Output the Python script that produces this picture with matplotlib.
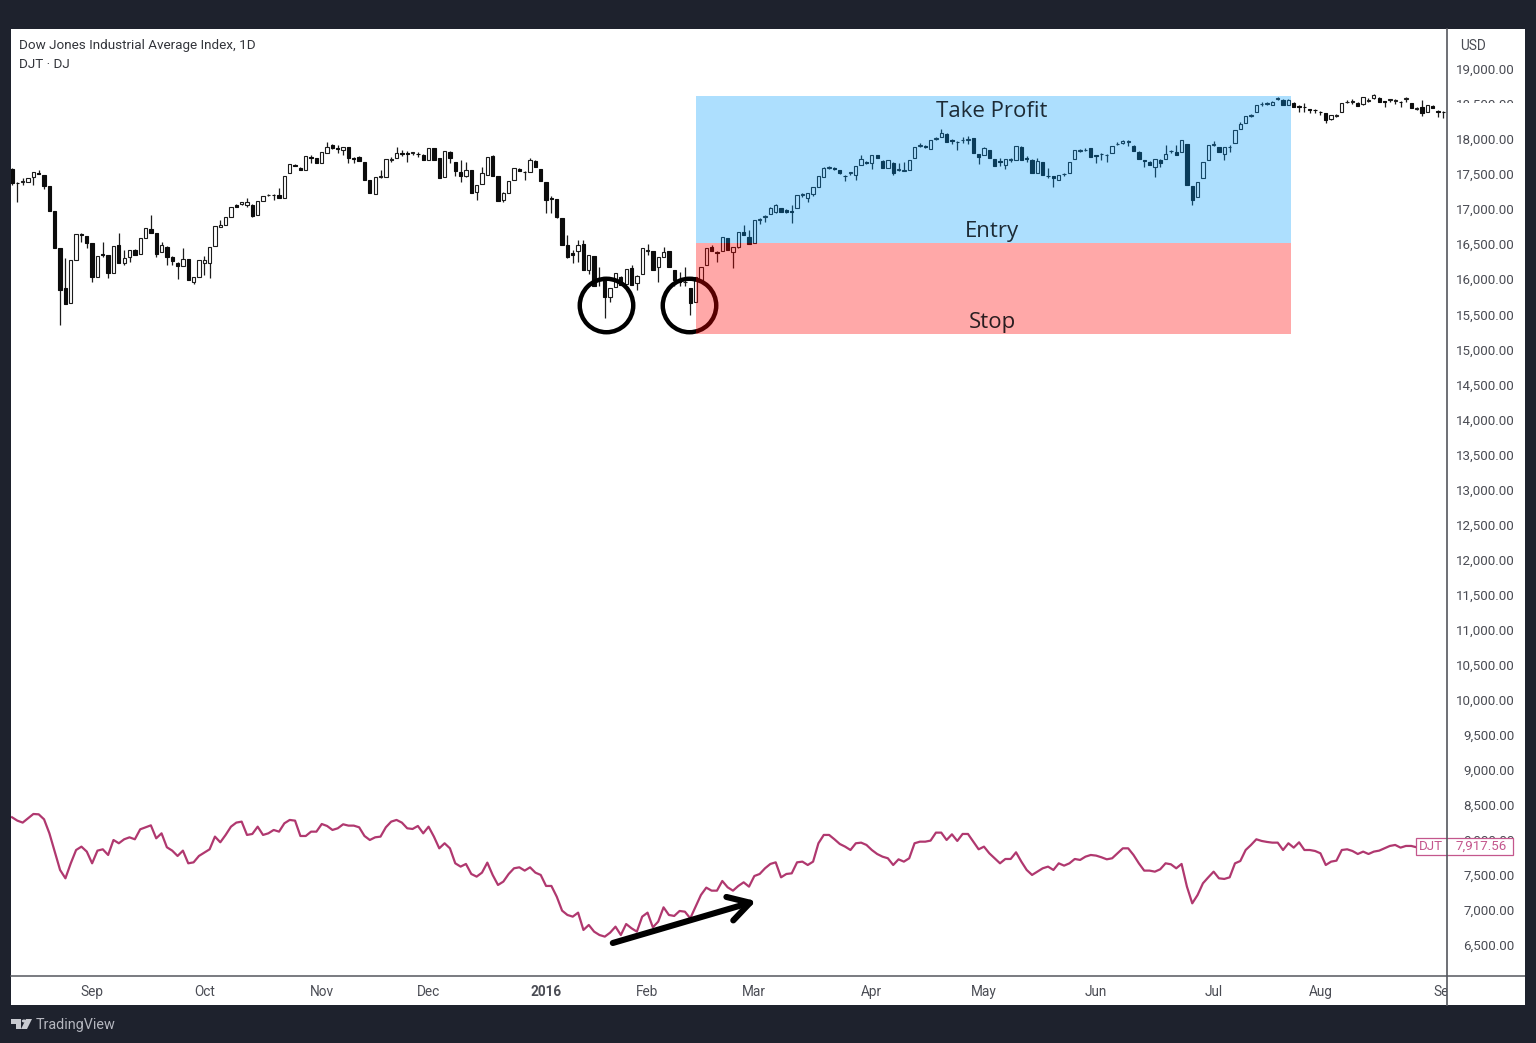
import matplotlib
matplotlib.use('Agg')
import matplotlib.pyplot as plt
from matplotlib.patches import Rectangle, Polygon, Circle
import numpy as np

plt.rcParams['font.family'] = ['Roboto', 'DejaVu Sans']

# daily candles
opens = [17580,17380,17390,17390,17464,17520,17488,17331,16974,16451,
         15870,15656,16275,16646,16610,16513,16037,16365,16346,16094,
         16489,16227,16322,16417,16360,16584,16712,16655,16394,16465,
         16322,16227,16189,16284,15966,16037,16237,16237,16475,16750,
         16774,16884,17060,17075,17060,17060,16917,17122,17195,17200,
         17195,17155,17512,17630,17585,17559,17745,17726,17654,17797,
         17916,17870,17845,17880,17730,17749,17678,17416,17217,17464,
         17464,17700,17726,17800,17800,17800,17790,17773,17702,17868,
         17726,17464,17821,17678,17535,17474,17559,17250,17360,17488,
         17759,17478,17131,17236,17416,17575,17535,17535,17692,17568,
         17393,17165,17140,16870,16489,16370,16408,16500,16130,16330,
         16000,16030,15750,15895,16037,15930,16156,15950,16075,16400,
         16403,16170,16322,16408,16132,15985,15960,15870,15680,15990,
         16203,16465,16385,
         16407,16583,16393,16464,16678,16607,16521,16850,16890,16930,
         16964,17011,16990,16975,17011,17200,17154,17215,17311,17463,
         17590,17585,17558,17475,17515,17487,17630,17677,17653,17772,
         17692,17582,17663,17560,17550,17558,17725,17905,17900,17853,
         18000,18034,18070,17985,17965,17980,17985,18010,17785,17772,
         17844,17710,17685,17630,17700,17701,17891,17725,17701,17511,
         17677,17480,17470,17416,17495,17511,17710,17830,17838,
         17868,17770,17790,17775,17806,17925,17939,17965,17906,17820,
         17700,17678,17597,17701,17711,17825,17820,17820,17930,17330,
         17178,17440,17701,17920,17882,17787,17880,17949,18139,18234,
         18335,18391,18495,18500,18486,18575,18558,18486,18520,18470,
         18465,18425,18420,18390,18367,18282,18335,18382,18525,18530,
         18510,18500,18550,18581,18581,18540,18555,18550,18535,18570,
         18510,18430,18462,18391,18472,18400,18385]
highs = [17590,17393,17440,17450,17530,17560,17490,17331,16974,16451,
         16299,16275,16646,16660,16620,16513,16332,16536,16346,16475,
         16655,16417,16417,16425,16590,16735,16917,16655,16536,16470,
         16330,16240,16441,16284,16037,16275,16332,16456,16760,16846,
         16884,17036,17075,17107,17155,17070,17122,17188,17215,17215,
         17297,17478,17645,17640,17600,17759,17773,17735,17821,17964,
         17925,17916,17892,17885,17745,17760,17680,17420,17464,17560,
         17712,17749,17892,17845,17835,17820,17821,17785,17868,17868,
         17730,17835,17830,17680,17702,17678,17559,17345,17607,17750,
         17770,17478,17240,17407,17590,17590,17540,17726,17700,17575,
         17393,17190,17145,16870,16630,16417,16560,16560,16346,16335,
         16180,16030,15870,16085,16040,16142,16203,16060,16440,16510,
         16405,16322,16465,16410,16135,16110,16180,15875,16037,16180,
         16445,16490,16400,
         16607,16585,16464,16678,16773,16700,16845,16870,16920,17025,
         17070,17020,17000,17059,17202,17230,17230,17320,17480,17600,
         17610,17600,17565,17490,17535,17620,17772,17690,17775,17780,
         17700,17701,17670,17653,17677,17701,17891,17940,17915,17990,
         18035,18140,18080,17995,17975,18025,18045,18015,17790,17880,
         17850,17715,17725,17710,17735,17900,17895,17760,17710,17725,
         17680,17582,17480,17490,17520,17680,17844,17860,17870,
         17875,17780,17806,17787,17906,17960,17985,17980,17915,17825,
         17705,17690,17715,17710,17915,17850,17915,17987,17935,17335,
         17392,17678,17915,17970,17890,17892,17915,18129,18240,18335,
         18365,18486,18530,18535,18540,18600,18570,18565,18530,18480,
         18510,18435,18430,18400,18375,18345,18360,18520,18560,18565,
         18530,18605,18585,18650,18595,18550,18575,18570,18545,18605,
         18520,18455,18558,18490,18480,18410,18395]
lows = [17345,17107,17345,17390,17345,17495,17283,16974,16451,15347,
        15647,15656,16275,16536,16441,15966,16037,16322,16013,16094,
        16237,16203,16251,16340,16360,16584,16655,16322,16394,16203,
        16203,15999,16189,15989,15932,16037,16061,16013,16475,16750,
        16774,16884,17030,17060,17026,16884,16917,17122,17185,17131,
        17155,17155,17512,17610,17555,17559,17654,17654,17654,17797,
        17860,17797,17773,17654,17654,17690,17416,17225,17217,17440,
        17464,17678,17726,17760,17678,17780,17749,17702,17702,17702,
        17440,17464,17654,17480,17393,17464,17236,17131,17360,17488,
        17478,17117,17107,17236,17416,17540,17416,17535,17595,17407,
        16950,16950,16880,16490,16310,16227,16250,16130,16080,15900,
        15900,15440,15680,15895,15915,15930,15915,15850,16075,16346,
        16130,15965,16322,16180,15900,15900,15900,15490,15680,15990,
        16203,16405,16250,
        16407,16417,16155,16440,16631,16502,16521,16790,16820,16930,
        16950,16960,16950,16797,17011,17170,17106,17190,17311,17463,
        17580,17565,17505,17405,17485,17416,17630,17645,17568,17725,
        17582,17582,17487,17550,17550,17558,17725,17890,17875,17853,
        17990,18025,17963,17935,17845,17940,17930,17805,17645,17772,
        17725,17615,17615,17570,17680,17701,17701,17670,17511,17511,
        17487,17439,17320,17416,17480,17511,17710,17820,17825,
        17749,17663,17701,17678,17806,17915,17935,17901,17835,17711,
        17597,17630,17463,17606,17711,17805,17770,17820,17344,17059,
        17178,17440,17701,17900,17820,17701,17820,17949,18139,18234,
        18320,18391,18475,18480,18486,18560,18480,18480,18462,18391,
        18391,18367,18367,18343,18234,18270,18320,18382,18510,18505,
        18472,18490,18530,18575,18534,18462,18530,18500,18453,18534,
        18439,18415,18329,18385,18439,18310,18296]
closes = [17380,17370,17400,17440,17525,17500,17331,16974,16451,15847,
          15647,16275,16646,16625,16513,16037,16332,16350,16084,16475,
          16237,16299,16417,16346,16584,16727,16655,16360,16489,16322,
          16265,16189,16284,15989,16037,16275,16275,16456,16760,16774,
          16884,17036,17036,17107,17107,16903,17122,17188,17205,17195,
          17155,17478,17645,17616,17559,17759,17735,17654,17821,17892,
          17868,17860,17892,17726,17720,17692,17416,17225,17464,17470,
          17712,17712,17807,17790,17785,17810,17785,17702,17868,17702,
          17440,17835,17726,17550,17474,17559,17236,17345,17512,17749,
          17478,17117,17236,17407,17583,17550,17525,17702,17597,17407,
          17131,17140,16884,16489,16322,16350,16489,16130,16346,15900,
          15985,15750,15870,16085,15918,16142,15918,16046,16441,16420,
          16130,16322,16394,16180,15990,15960,15965,15655,16037,16180,
          16441,16408,16375,
          16607,16417,16464,16678,16631,16502,16845,16860,16900,17011,
          17059,16964,16964,16965,17202,17210,17225,17311,17473,17592,
          17600,17575,17511,17470,17525,17615,17710,17653,17772,17725,
          17582,17701,17520,17570,17565,17701,17891,17915,17882,17986,
          18012,18082,17963,17975,17955,17990,17995,17805,17749,17868,
          17725,17615,17670,17710,17712,17900,17701,17715,17511,17692,
          17487,17470,17439,17487,17505,17677,17844,17840,17850,
          17749,17760,17785,17780,17906,17935,17977,17975,17835,17711,
          17690,17630,17711,17654,17787,17835,17773,17987,17344,17130,
          17392,17678,17915,17930,17820,17892,17890,18129,18215,18329,
          18345,18486,18505,18510,18534,18585,18486,18558,18462,18460,
          18455,18420,18410,18385,18272,18343,18345,18520,18535,18540,
          18472,18605,18560,18629,18534,18530,18565,18560,18530,18585,
          18439,18440,18367,18486,18439,18390,18380]

# DJT line
djt = [8322,8274,8246,8307,8369,8364,8293,8093,7832,7570,7451,7665,7855,7903,7832,7665,
       7846,7865,7784,7998,7951,8008,8036,8008,8150,8179,8207,8022,8093,7894,7846,7770,
       7846,7665,7679,7770,7817,7865,8046,7965,8070,8188,8246,8260,8070,8084,8188,8070,
       8093,8141,8117,8236,8284,8274,8055,8055,8117,8117,8226,8198,8141,8165,8222,8203,
       8203,8179,8055,7998,8036,8046,8179,8260,8284,
       8246,8165,8155,8198,8093,8188,8046,7879,7951,7879,7665,7618,7656,7513,7475,7532,
       7675,7499,7356,7404,7513,7594,7608,7561,7608,7532,7499,7342,7342,7189,6990,6928,
       6904,6961,6714,6785,6690,6642,6619,6676,6761,6642,6799,6738,6690,6904,6961,6752,
       6833,7037,6928,6914,6985,6975,6880,7047,7213,7318,7275,7275,7413,7323,7275,7342,
       7394,7332,7484,7513,7594,7656,7679,7465,7513,7522,7679,7689,7641,7689,7951,8070,
       8070,8008,7941,7903,7855,
       7951,7960,7927,7855,7798,7760,7737,7641,7722,7689,7737,7951,7974,7974,7989,8103,
       8103,7998,8079,7984,8084,8084,7974,7865,7903,7808,7737,7665,7727,7727,7822,7689,
       7570,7499,7546,7594,7618,7570,7665,7632,7665,7727,7713,7760,7784,7775,7751,7722,
       7737,7808,7879,7879,7784,7665,7561,7561,7546,7580,7665,7651,7594,7656,7332,7094,
       7213,7380,7465,7546,7451,7442,7465,7665,7698,7855,7927,8008,7984,7970,7960,7960,
       7855,7951,7889,7965,7855,7855,7841,7808,7641,7689,7703,7855,7865,7841,7798,7832,
       7798,7832,7846,7879,7913,7927,7889,7913,7913,7894,7900,7905,7910,7915,7917.56]

price_ticks = list(range(6500, 19500, 500))
month_pos = [15, 36.1, 58, 78, 100, 119, 139, 161, 182, 203, 225, 245, 268.3]
month_labels = ['Sep', 'Oct', 'Nov', 'Dec', '2016', 'Feb', 'Mar', 'Apr', 'May', 'Jun', 'Jul', 'Aug', 'Sep']

take_profit = 18615
entry = 16517
stop = 15218
trade_start = 128.1
trade_end = 239.5

W, H = 1536, 1043
dark = '#1e222d'
pink = '#b0386f'
tag = '#c4578d'
grey = '#4a4c54'

fig = plt.figure(figsize=(W/100, H/100), dpi=100, facecolor=dark)
# white strip under the chart
fig.add_artist(Rectangle((11/W, 1-1005/H), 1436/W, 29/H, transform=fig.transFigure,
                         facecolor='white', edgecolor='none', zorder=-1))

ax = fig.add_axes([11/W, 1-976/H, 1436/W, 947/H], zorder=1)
ax.set_xlim(-0.19, 268.7)
ax.set_ylim(6057, 19571)
for s in ['top', 'left', 'right']:
    ax.spines[s].set_visible(False)
ax.spines['bottom'].set_color('#55575e')
ax.spines['bottom'].set_linewidth(1.1)
ax.set_yticks([])
ax.set_xticks(month_pos, month_labels)
ax.tick_params(axis='x', length=0, pad=6.5, labelsize=9.8, labelcolor=grey)
ax.get_xticklabels()[4].set_fontweight('bold')

x = np.arange(len(opens))
o = np.array(opens)
c = np.array(closes)
ax.vlines(x, lows, highs, color='#1c1c1c', lw=0.9, zorder=2)
up = c >= o
ax.bar(x[up], c[up]-o[up], bottom=o[up], width=0.62, facecolor='white',
       edgecolor='#1c1c1c', linewidth=0.8, zorder=3)
ax.bar(x[~up], o[~up]-c[~up], bottom=c[~up], width=0.62, facecolor='#0c0c0c',
       edgecolor='#0c0c0c', linewidth=0.8, zorder=3)

ax.plot(np.arange(len(djt)), djt, color=pink, lw=1.6, zorder=3, solid_joinstyle='round')

# circles round the two wicks
ax.plot([111.2, 126.8], [15632, 15632], 'o', ms=38.5, mfc='none', mec='black', mew=3.2, zorder=4)

# trade box sits over the candles
ax.add_patch(Rectangle((trade_start, entry), trade_end-trade_start, take_profit-entry,
                       facecolor='#069efc', alpha=0.33, edgecolor='none', zorder=5))
ax.add_patch(Rectangle((trade_start, stop), trade_end-trade_start, entry-stop,
                       facecolor='#ff0000', alpha=0.34, edgecolor='none', zorder=5))
box_font = ['Open Sans', 'DejaVu Sans']
ax.text(183.5, 18400, 'Take Profit', ha='center', va='center', fontsize=16, color='#1d2b36', family=box_font, zorder=6)
ax.text(183.5, 16675, 'Entry', ha='center', va='center', fontsize=16, color='#1d2b36', family=box_font, zorder=6)
ax.text(183.5, 15376, 'Stop', ha='center', va='center', fontsize=16, color='#2a1d20', family=box_font, zorder=6)

ax.annotate('', xy=(139.3, 7127), xytext=(112.5, 6528), zorder=6,
            arrowprops=dict(arrowstyle='->,head_length=0.95,head_width=0.55', mutation_scale=16,
                            color='black', lw=4.4, shrinkA=0, shrinkB=0,
                            capstyle='round', joinstyle='round'))

fig.text(19/W, 1-46/H, 'Dow Jones Industrial Average Index, 1D', fontsize=9.7, color='#33353b', va='center')
fig.text(19/W, 1-64/H, 'DJT · DJ', fontsize=9.7, color='#33353b', va='center')

# price scale
ax2 = fig.add_axes([1447/W, 1-1005/H, 78/W, 976/H], zorder=2, facecolor='white')
ax2.set_xlim(0, 1)
ax2.set_ylim(5643, 19571)
ax2.set_xticks([])
for s in ['top', 'bottom', 'right']:
    ax2.spines[s].set_visible(False)
ax2.spines['left'].set_color('#55575e')
ax2.spines['left'].set_linewidth(1.2)
ax2.spines['left'].set_zorder(8)
ax2.set_yticks(price_ticks, [f'{v:,.2f}' for v in price_ticks])
ax2.tick_params(axis='y', length=0, pad=-48.5, labelsize=9.6, labelcolor=grey)
ax2.axhline(6057, color='#55575e', lw=1.1)
fig.text(1473/W, 1-46/H, 'USD', fontsize=9.8, color=grey, ha='center', va='center', zorder=5)

# the box cuts off the 18,500 label, the DJT tag cuts off 8,000
ax2.add_patch(Rectangle((0.02, 18100), 0.96, 420, facecolor='white', edgecolor='none', zorder=5))
ax2.add_patch(Rectangle((-0.397, 7784), 1.243, 242, facecolor='white', edgecolor=tag,
                        linewidth=0.9, zorder=5, clip_on=False))
ax2.text(-0.205, 7905, 'DJT', fontsize=9.6, color=tag, ha='center', va='center', zorder=6, clip_on=False)
ax2.text(0.435, 7905, '7,917.56', fontsize=9.6, color=tag, ha='center', va='center', zorder=6)

# TradingView mark
logo = '#c9cbd1'
fig.add_artist(Polygon([(11/W, 1-1019/H), (21/W, 1-1019/H), (21/W, 1-1029/H), (16/W, 1-1029/H),
                        (16/W, 1-1024/H), (11/W, 1-1024/H)], transform=fig.transFigure,
                       facecolor=logo, edgecolor='none'))
fig.add_artist(Circle((24/W, 1-1021/H), 2.2/W, transform=fig.transFigure, facecolor=logo, edgecolor='none'))
fig.add_artist(Polygon([(26/W, 1-1019/H), (32/W, 1-1019/H), (27/W, 1-1029/H), (21/W, 1-1029/H)],
                       transform=fig.transFigure, facecolor=logo, edgecolor='none'))
fig.text(36/W, 1-1025/H, 'TradingView', fontsize=10.4, color='#b5b7bf', va='center')

fig.savefig('out.png', dpi=100, facecolor=dark)
